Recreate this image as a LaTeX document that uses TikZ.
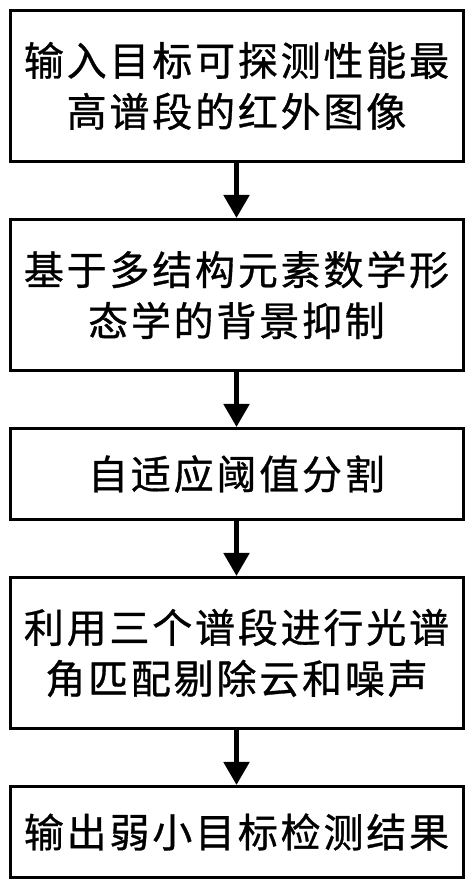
\documentclass[tikz,border=0pt]{standalone}
\usepackage{fontspec}
\setmainfont{Noto Sans CJK SC}[LetterSpace=7,FakeBold=0.8]
\usetikzlibrary{arrows.meta,positioning}

\begin{document}
\begin{tikzpicture}[x=1pt,y=1pt,node distance=55pt,
  stepbox/.style={draw,line width=3pt,minimum width=453pt,text width=440pt,
    align=center,inner sep=0pt,font=\fontsize{40pt}{51pt}\selectfont},
  twoline/.style={stepbox,minimum height=151pt},
  oneline/.style={stepbox,minimum height=91pt},
  flow/.style={line width=5pt,-{Triangle[width=25pt,length=23pt]}}]
\useasboundingbox (0,0) rectangle (474,881);
\node[twoline] (input) at (236.5,795) {输入目标可探测性能最\\高谱段的红外图像};
\node[twoline] (suppress) [below=of input] {基于多结构元素数学形\\态学的背景抑制};
\node[oneline] (segment) [below=of suppress] {自适应阈值分割};
\node[twoline] (match) [below=of segment] {利用三个谱段进行光谱\\角匹配剔除云和噪声};
\node[oneline] (output) [below=of match] {输出弱小目标检测结果};

\draw[flow] (input) -- (suppress);
\draw[flow] (suppress) -- (segment);
\draw[flow] (segment) -- (match);
\draw[flow] (match) -- (output);
\end{tikzpicture}
\end{document}
